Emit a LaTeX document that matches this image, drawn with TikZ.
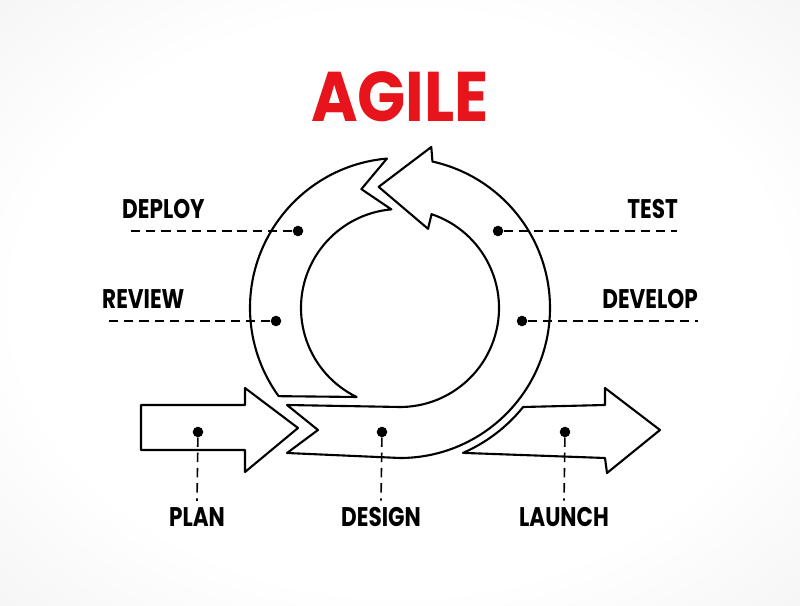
\documentclass[tikz,border=0pt]{standalone}
\usepackage{fontspec}
\newfontfamily\handfont{Poppins}[FakeStretch=0.8]
\newfontfamily\titlefont{Poppins}[FakeStretch=0.9]
\usetikzlibrary{positioning,calc}
\definecolor{agilered}{HTML}{E8141B}
\definecolor{edgegray}{HTML}{E2E2E2}
\pgfdeclareradialshading{paper}{\pgfpoint{0bp}{0bp}}{color(0bp)=(white); color(12bp)=(white); color(30bp)=(edgegray); color(50bp)=(edgegray)}

\begin{document}
\begin{tikzpicture}[
  x=0.03cm, y=0.03cm,
  line/.style={
    line width=1.8pt,
    draw=black,
    fill=white,
    line join=round,
  },
  guide/.style={line width=1.4pt, dash pattern=on 8pt off 5pt},
  pin/.style={circle, fill=black, inner sep=0pt, minimum size=9pt},
  tag/.style={inner sep=0pt, font=\handfont\bfseries\fontsize{23}{23}\selectfont}]
  \path[use as bounding box, clip] (0,0) rectangle (800,605);
  \shade[shading=paper] (-400,-300) rectangle (1200,905);
  \coordinate (C) at (400,297);
  \node[text=agilered, inner sep=0pt, font=\titlefont\bfseries\fontsize{60}{60}\selectfont]
    (title) at (400,508) {AGILE};
  \draw[line] ($(C)+(95:150)$) arc[start angle=95, end angle=216, radius=150]
    -- ($(C)+(244:99)$) arc[start angle=244, end angle=95, radius=99]
    -- ($(C)+(108:125)$) -- cycle;
  \draw[line] (287,200) -- (318,175) -- (287,152) -- (400,147)
    arc[start angle=270, end angle=437.5, radius=150]
    -- ($(C)+(79:164)$) -- ($(C)+(100:123)$) -- ($(C)+(70.5:84)$)
    -- ($(C)+(71.4:99)$) arc[start angle=71.4, end angle=-90, radius=99] -- cycle;
  \draw[line] (141,200) -- (245,200) -- (245,217) -- (298,177)
    -- (245,133) -- (245,155) -- (141,155) -- cycle;
  \draw[line] ($(C)+(-66.5:158)$) -- (605,147) -- (607,132) -- (660,175)
    -- (605,217) -- (605,200) -- ($(C)+(-38.8:158)$)
    arc[start angle=-38.8, end angle=-66.5, radius=158] -- cycle;
  \foreach \n/\A/\px/\y/\ex/\tx/\an in
  {deploy/DEPLOY/298/374/125/122/west, review/REVIEW/276/284/103/102/west,
   test/TEST/498/374/677/678/east, develop/DEVELOP/522/284/698/698/east}
  {
    \node[pin] (pin\n) at (\px,\y) {};
    \coordinate (end\n) at (\ex,\y);
    \draw[guide] (pin\n) -- (end\n);
    \node[tag, anchor=base \an] (\n) at (\tx,\y+12) {\A};
  }
  \foreach \n/\A/\px in {plan/PLAN/198, design/DESIGN/382, launch/LAUNCH/565}
  {
    \node[pin] (pin\n) at (\px,173) {};
    \node[tag, anchor=base] (\n) at (\px-1,79) {\A};
    \draw[guide] (pin\n) -- ($(\n.north)+(0,6)$);
  }
\end{tikzpicture}
\end{document}
